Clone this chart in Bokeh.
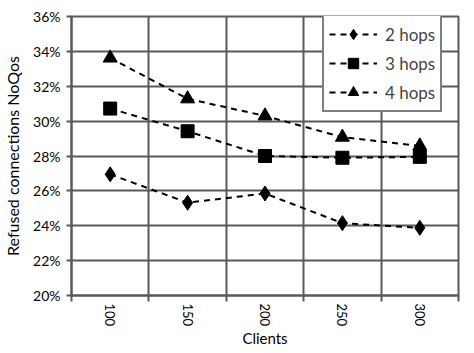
from bokeh.plotting import figure
from bokeh.models import FixedTicker, NumeralTickFormatter, Range1d, Legend, LegendItem
from bokeh.embed import file_html
from bokeh.resources import INLINE

clients = [100, 150, 200, 250, 300]
hops2 = [0.2695, 0.2532, 0.2585, 0.2415, 0.2388]
hops3 = [0.3072, 0.2942, 0.2800, 0.2790, 0.2795]
hops4 = [0.3362, 0.3128, 0.3030, 0.2908, 0.2858]
series = [("2 hops", hops2, "diamond", 15), ("3 hops", hops3, "square", 13), ("4 hops", hops4, "triangle", 14)]
y_ticks = [0.20, 0.22, 0.24, 0.26, 0.28, 0.30, 0.32, 0.34, 0.36]
x_bounds = [75, 125, 175, 225, 275, 325]

FONT = "Lato"
GRID = "#595959"

p = figure(frame_width=387, frame_height=279, output_backend="svg", toolbar_location=None,
           min_border_left=71, min_border_top=16, min_border_right=16, min_border_bottom=56,
           x_range=Range1d(75, 325), y_range=Range1d(0.20, 0.36))
p.outline_line_color = GRID
p.outline_line_width = 2

p.xaxis.ticker = FixedTicker(ticks=clients, minor_ticks=x_bounds)
p.xaxis.major_tick_line_color = None
p.xaxis.major_tick_out = 0
p.xaxis.major_tick_in = 0
p.xaxis.minor_tick_line_color = GRID
p.xaxis.minor_tick_line_width = 2
p.xaxis.minor_tick_out = 6
p.xaxis.minor_tick_in = 0
p.xaxis.major_label_orientation = "vertical"
p.xaxis.axis_label = "Clients"

p.yaxis.ticker = FixedTicker(ticks=y_ticks)
p.yaxis.formatter = NumeralTickFormatter(format="0%")
p.yaxis.major_tick_line_color = GRID
p.yaxis.major_tick_line_width = 2
p.yaxis.major_tick_out = 5
p.yaxis.major_tick_in = 0
p.yaxis.minor_tick_line_color = None
p.yaxis.axis_label = "Refused connections NoQos"

for ax in (p.xaxis, p.yaxis):
    ax.axis_line_color = GRID
    ax.axis_line_width = 2
    ax.major_label_text_font = FONT
    ax.major_label_text_font_size = "14px"
    ax.major_label_text_color = "black"
    ax.axis_label_text_font = FONT
    ax.axis_label_text_font_size = "16px"
    ax.axis_label_text_font_style = "normal"
    ax.axis_label_text_color = "black"
p.xaxis.major_label_text_font_size = "13px"
p.xaxis.major_label_standoff = 2
p.xaxis.axis_label_standoff = 0
p.xaxis.axis_label_text_font_size = "15px"
p.yaxis.major_label_standoff = 6
p.yaxis.axis_label_standoff = 8

p.xgrid.ticker = FixedTicker(ticks=x_bounds)
p.ygrid.ticker = FixedTicker(ticks=y_ticks)
for g in (p.xgrid, p.ygrid):
    g.grid_line_color = GRID
    g.grid_line_width = 2

items = []
for name, vals, marker, size in series:
    ln = p.line(clients, vals, line_color="black", line_width=2, line_dash="6 5")
    sc = p.scatter(clients, vals, marker=marker, size=size, fill_color="black", line_color="black")
    items.append(LegendItem(label=name, renderers=[ln, sc]))

legend = Legend(items=items, location=(251, 183), glyph_width=48, glyph_height=26,
                label_text_font=FONT, label_text_font_size="17px", spacing=3,
                padding=5, border_line_color="black", border_line_width=2,
                background_fill_alpha=1.0, label_standoff=8)
p.add_layout(legend, "center")

open("out.html", "w").write(file_html(p, INLINE))
